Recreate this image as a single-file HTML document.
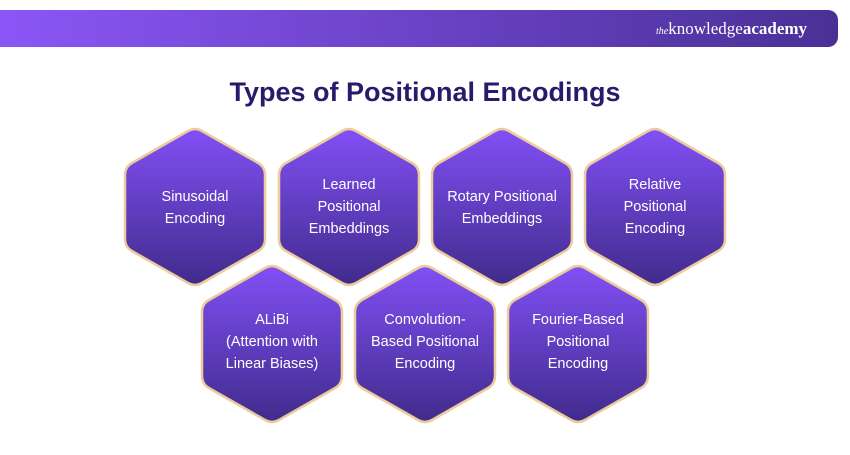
<!DOCTYPE html>
<html><head><style>
body{margin:0;width:850px;height:450px;background:#fff;overflow:hidden;font-family:"Liberation Sans",sans-serif}
</style></head><body>
<svg width="850" height="450" xmlns="http://www.w3.org/2000/svg">
<defs>
<linearGradient id="bn" x1="0" x2="1" y1="0" y2="0"><stop offset="0" stop-color="#8b56f6"/><stop offset="1" stop-color="#4a3096"/></linearGradient>
<linearGradient id="hx" x1="0" x2="0" y1="0" y2="1"><stop offset="0" stop-color="#8150f5"/><stop offset="1" stop-color="#412b8c"/></linearGradient>
<g id="h"><path d="M-6.9,-76 Q0,-80 6.9,-76 L63.1,-44 Q70,-40 70,-32 L70,32 Q70,40 63.1,44 L6.9,76 Q0,80 -6.9,76 L-63.1,44 Q-70,40 -70,32 L-70,-32 Q-70,-40 -63.1,-44 Z" fill="url(#hx)" stroke="#eccb9c" stroke-width="2.5" stroke-linejoin="round"/></g>
</defs>
<path d="M0,10 H828 a10,10 0 0 1 10,10 V37 a10,10 0 0 1 -10,10 H0 Z" fill="url(#bn)"/>
<text x="656" y="34" fill="#fff" font-family="Liberation Serif,serif" font-size="17"><tspan font-size="10" font-style="italic">the</tspan>knowledge<tspan font-weight="bold">academy</tspan></text>
<text x="425" y="101" text-anchor="middle" fill="#2b1a6b" font-size="27" font-weight="bold">Types of Positional Encodings</text>
<g fill="#fff" font-size="14.5" text-anchor="middle">
<use href="#h" x="195" y="207"/><use href="#h" x="349" y="207"/><use href="#h" x="502" y="207"/><use href="#h" x="655" y="207"/>
<use href="#h" x="272" y="344"/><use href="#h" x="425" y="344"/><use href="#h" x="578" y="344"/>
<text x="195" y="201">Sinusoidal</text><text x="195" y="223">Encoding</text>
<text x="349" y="189">Learned</text><text x="349" y="211">Positional</text><text x="349" y="233">Embeddings</text>
<text x="502" y="201">Rotary Positional</text><text x="502" y="223">Embeddings</text>
<text x="655" y="189">Relative</text><text x="655" y="211">Positional</text><text x="655" y="233">Encoding</text>
<text x="272" y="324">ALiBi</text><text x="272" y="346">(Attention with</text><text x="272" y="368">Linear Biases)</text>
<text x="425" y="324">Convolution-</text><text x="425" y="346">Based Positional</text><text x="425" y="368">Encoding</text>
<text x="578" y="324">Fourier-Based</text><text x="578" y="346">Positional</text><text x="578" y="368">Encoding</text>
</g>
</svg>
</body></html>
